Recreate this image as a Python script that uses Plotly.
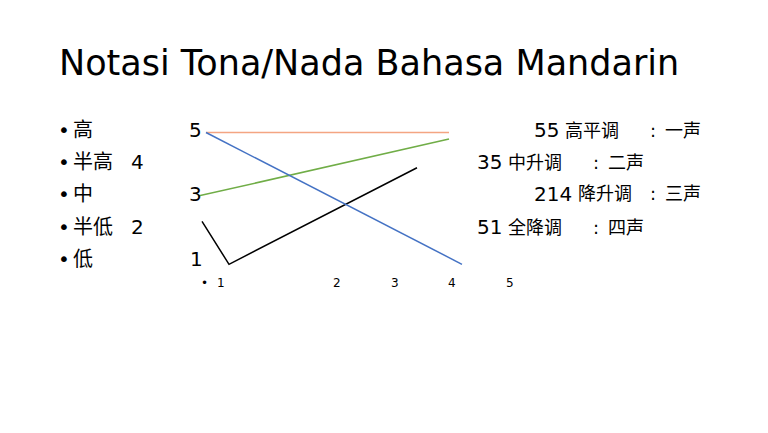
import plotly.graph_objects as go

# tone contours: horizontal position on the slide (px) and pitch level (1-5)
tone_names = ["55", "35", "214", "51"]
tone_colors = ["#F4A582", "#70AD47", "#000000", "#4472C4"]
tone_x = [[206, 449], [198, 449], [202, 229, 417], [206, 462]]
tone_pitch = [[5, 5], [3.07, 4.8], [2.3, 1.0, 3.93], [5, 1.0]]

# left scale list
level_words = ["高", "半高", "中", "半低", "低"]
level_nums = ["5", "4", "3", "2", "1"]

# right legend text
tone_labels = ["高平调", "中升调", "降升调", "全降调"]
tone_ordinals = ["一声", "二声", "三声", "四声"]

bottom_ticks = ["1", "2", "3", "4", "5"]

W, H = 768, 433
OFF = 8  # page body margin
FONT = "DejaVu Sans, Noto Sans CJK SC"


def px(x):
    return (x - OFF) / W


def py(y):
    return 1 - (y - OFF) / H


fig = go.Figure()
for name, col, xs, ps in zip(tone_names, tone_colors, tone_x, tone_pitch):
    fig.add_trace(go.Scatter(x=xs, y=ps, mode="lines", name=name,
                             line=dict(color=col, width=1.5),
                             hoverinfo="skip", showlegend=False))

ann = []


def txt(x, y, s, size=20):
    ann.append(dict(x=px(x), y=py(y), xref="paper", yref="paper", text=s,
                    showarrow=False, xanchor="left", yanchor="middle",
                    font=dict(family=FONT, size=size, color="#000000")))


txt(57, 63, "Notasi Tona/Nada Bahasa Mandarin", 35)

row_y = [130, 162, 194, 227, 259]
num_x = [187, 129, 187, 129, 188]
for w, n, y, nx in zip(level_words, level_nums, row_y, num_x):
    txt(56, y, "•", 20)
    txt(71, y, w)
    txt(nx, y, n)

num_left = [532, 475, 532, 475]
for i, (t, lab, o) in enumerate(zip(tone_names, tone_labels, tone_ordinals)):
    x0 = num_left[i]
    y = row_y[i]
    txt(x0, y, t)
    txt(x0 + len(t) * 12.7 + 6, y, lab, 18)
    txt(x0 + 116, y, ":", 18)
    txt(x0 + 131, y, o, 18)

txt(199, 283, "•", 12)
for t, x in zip(bottom_ticks, [215, 331, 389, 446, 504]):
    txt(x, 283, t, 12)

# pitch axis scaled so level 5 sits at 132.5 px and level 1 at 264.3 px
unit = (264.3 - 132.5) / 4
top = 132.5 - OFF
fig.update_layout(
    width=W, height=H,
    margin=dict(l=0, r=0, t=0, b=0),
    paper_bgcolor="white", plot_bgcolor="white",
    xaxis=dict(range=[OFF, W + OFF], visible=False, fixedrange=True),
    yaxis=dict(range=[5 - (H - top) / unit, 5 + top / unit],
               visible=False, fixedrange=True),
    annotations=ann,
)

fig.write_html("out.html")
